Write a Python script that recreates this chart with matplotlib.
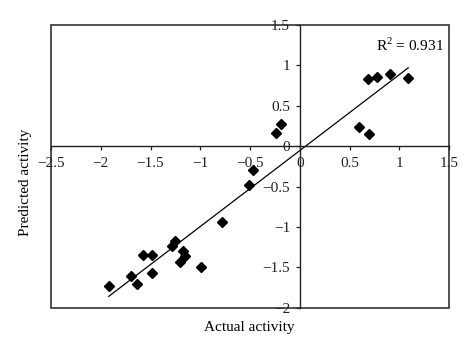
import numpy as np
import matplotlib.pyplot as plt
from matplotlib.patches import Rectangle

plt.rcParams['font.family'] = ['Liberation Serif', 'DejaVu Serif']

# Actual vs predicted activity
actual = [0.69, 0.78, 0.91, 1.09, 0.60, 0.70, -0.24, -0.19, -0.47, -0.51,
          -0.78, -1.25, -1.28, -1.17, -1.15, -1.20, -0.99, -1.58, -1.49,
          -1.49, -1.70, -1.64, -1.92]
predicted = [0.83, 0.86, 0.89, 0.84, 0.24, 0.15, 0.16, 0.27, -0.29, -0.48,
             -0.94, -1.17, -1.24, -1.30, -1.36, -1.44, -1.50, -1.35, -1.35,
             -1.57, -1.61, -1.71, -1.73]

# trend line as drawn in the figure
fit_slope = 0.94
fit_intercept = -0.055
r2 = 0.931

xticks = [-2.5, -2, -1.5, -1, -0.5, 0, 0.5, 1, 1.5]
yticks = [-2, -1.5, -1, -0.5, 0, 0.5, 1, 1.5]

fig = plt.figure(figsize=(4.74, 3.53), dpi=100)
ax = fig.add_axes([0.1076, 0.1283, 0.8397, 0.8009])

ax.plot(actual, predicted, 'D', color='black', markersize=5.5, zorder=3)
fx = np.array([min(actual), max(actual)])
ax.plot(fx, fit_slope * fx + fit_intercept, color='black', lw=0.9)

ax.set_xlim(-2.5, 1.5)
ax.set_ylim(-2, 1.5)
ax.set_xticks(xticks)
ax.set_yticks(yticks)
ax.set_xticklabels([f'{t:g}'.replace('-', '\u2212') for t in xticks])
ax.set_yticklabels([f'{t:g}'.replace('-', '\u2212') for t in yticks])

ax.spines['left'].set_position(('data', 0))
ax.spines['bottom'].set_position(('data', 0))
ax.spines['top'].set_visible(False)
ax.spines['right'].set_visible(False)
for s in ('left', 'bottom'):
    ax.spines[s].set_linewidth(1.0)
    ax.spines[s].set_color('#222222')
ax.add_patch(Rectangle((0, 0), 1, 1, transform=ax.transAxes, fill=False,
                       lw=1.2, edgecolor='#333333', clip_on=False))
ax.tick_params(direction='out', length=3, width=0.9, labelsize=11,
               colors='#222222')
ax.tick_params(axis='x', pad=5)
ax.tick_params(axis='y', pad=4)

ax.text(1.45, 1.25, f'R$^{{\\mathregular{{2}}}}$ = {r2}', ha='right',
        va='center', fontsize=11)

fig.text(51 / 474 + 0.5 * 398 / 474 - 0.001, 1 - 327 / 353, 'Actual activity',
         ha='center', va='center', fontsize=11)
fig.text(26 / 474, 1 - 182 / 353, 'Predicted activity', rotation=90,
         ha='center', va='center', fontsize=11)

fig.savefig('out.png', dpi=100)
